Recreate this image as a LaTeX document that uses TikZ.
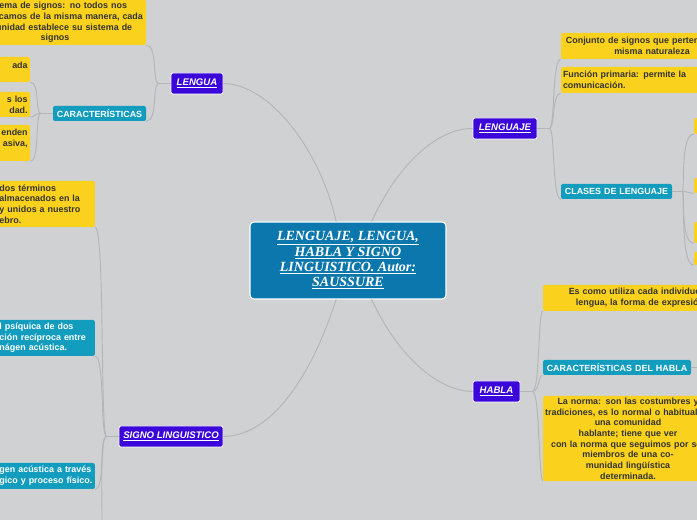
\documentclass[tikz,border=0pt]{standalone}
\usepackage{fontspec}
\setmainfont{Liberation Serif}
\setsansfont{Liberation Sans}
\usetikzlibrary{calc}
\definecolor{bg}{HTML}{D0D1D3}
\definecolor{ylw}{HTML}{FAD21E}
\definecolor{tl}{HTML}{129CBE}
\definecolor{pur}{HTML}{3A06DA}
\definecolor{cen}{HTML}{0B77AD}
\definecolor{ln}{HTML}{B4B5B8}
\tikzset{
 x=0.75pt,y=-0.75pt,
 bx/.style={rounded corners=1.5pt,inner sep=1.5pt,font=\sffamily\bfseries\fontsize{6.7}{8}\selectfont},
 yb/.style={bx,fill=ylw,text=black!80},
 tb/.style={bx,fill=tl,text=white},
 pb/.style={bx,fill=pur,draw=white,line width=0.6pt,text=white,font=\sffamily\bfseries\itshape\fontsize{7.2}{8}\selectfont},
 con/.style={draw=ln,line width=0.7pt}
}
\begin{document}
\begin{tikzpicture}
\useasboundingbox (0,0) rectangle (697,520);
\clip (0,0) rectangle (697,520);
\fill[bg] (0,0) rectangle (697,520);
% center
\node[rounded corners=3pt,fill=cen,draw=white,line width=0.8pt,minimum width=147pt,minimum height=57.75pt,align=center,text=white,font=\bfseries\itshape\fontsize{10.5}{11.5}\selectfont] (c) at (348,260.5) {\underline{LENGUAJE, LENGUA,}\\\underline{HABLA Y SIGNO}\\\underline{LINGUISTICO. Autor:}\\\underline{SAUSSURE}};
% main
\node[pb,minimum width=39pt,minimum height=15.75pt] (lengua) at (197,83.5) {\underline{LENGUA}};
\node[pb,minimum width=78pt,minimum height=15.75pt] (signo) at (171,436.5) {\underline{SIGNO LINGUISTICO}};
\node[pb,minimum width=48pt,minimum height=15.75pt] (lenguaje) at (505,128.5) {\underline{LENGUAJE}};
\node[pb,minimum width=35.25pt,minimum height=15.75pt] (habla) at (496.5,391.5) {\underline{HABLA}};
% lengua children
\node[yb,text width=133.5pt,minimum height=33.75pt,align=center] (la) at (55,22.5) {Sistema de signos: no todos nos\\comunicamos de la misma manera, cada\\comunidad establece su sistema de\\signos};
\node[tb,text width=66.75pt,minimum height=11.25pt,align=center] (car) at (99.5,113.5) {CARACTERÍSTICAS};
\node[yb,minimum width=67.5pt,minimum height=18.75pt,text width=64pt,align=right] (y1) at (-15,69.5) {ada\\[-1pt]~};
\node[yb,minimum width=67.5pt,minimum height=18.75pt,text width=64pt,align=right] (y2) at (-15,104.5) {s los\\dad.};
\node[yb,minimum width=67.5pt,minimum height=27pt,text width=64pt,align=right] (y3) at (-15,143) {enden\\asiva,\\~};
% signo children
\node[yb,minimum height=34.5pt,text width=113pt,align=right] (s1) at (17.5,204) {\makebox[70pt][l]{dos términos}\\\makebox[70pt][l]{almacenados en la}\\\makebox[70pt][l]{y unidos a nuestro}\\\makebox[70pt][l]{ebro.}};
\node[tb,minimum height=27pt,text width=113pt,align=right] (s2) at (17.5,338) {\makebox[70pt][l]{l psíquica de dos}\\\makebox[70pt][l]{ción recíproca entre}\\\makebox[70pt][l]{nágen acústica.}};
\node[tb,minimum height=19.5pt,text width=113pt,align=right] (s3) at (17.5,476) {\makebox[70pt][l]{gen acústica a través}\\\makebox[70pt][l]{gico y proceso físico.}};
\coordinate (s4) at (102,520);
% lenguaje children
\node[yb,text width=133.5pt,minimum height=19.5pt,align=center] (j1) at (652,46) {Conjunto de signos que pertenecen a la\\misma naturaleza};
\node[yb,text width=133.5pt,minimum height=19.5pt,align=left] (j2) at (652,80) {Función primaria: permite la\\comunicación.};
\node[tb,text width=80.25pt,minimum height=11.25pt,align=center] (cl) at (616.5,191.5) {CLASES DE LENGUAJE};
\node[yb,minimum width=30pt,minimum height=12pt] (k1) at (714,126) {};
\node[yb,minimum width=30pt,minimum height=11.25pt] (k2) at (714,185.5) {};
\node[yb,minimum width=30pt,minimum height=15.75pt] (k3) at (714,232.5) {};
\node[yb,minimum width=30pt,minimum height=9.75pt] (k4) at (714,258.5) {};
% habla children
\node[yb,text width=142.5pt,minimum height=19.5pt,align=center] (h1) at (640,298) {Es como utiliza cada individuo la\\lengua, la forma de expresión};
\node[tb,text width=108pt,minimum height=11.25pt,align=center] (h2) at (617,367.5) {CARACTERÍSTICAS DEL HABLA};
\coordinate (h2e) at (697,367.5);
\node[yb,text width=124.5pt,minimum height=50.25pt,align=center] (h3) at (628,438.5) {La norma: son las costumbres y\\tradiciones, es lo normal o habitual en\\una comunidad hablante; tiene que ver\\con la norma que seguimos por ser\\miembros de una comunidad lingüística\\determinada.};
% connectors center
\draw[con] ($(c.north west)!0.44!(c.north east)$) .. controls (320,150) and (270,84) .. (lengua.east);
\draw[con] ($(c.north west)!0.62!(c.north east)$) .. controls (400,160) and (440,128) .. (lenguaje.west);
\draw[con] ($(c.south west)!0.44!(c.south east)$) .. controls (310,380) and (270,436) .. (signo.east);
\draw[con] ($(c.south west)!0.62!(c.south east)$) .. controls (400,360) and (440,391) .. (habla.west);
% lengua branches
\draw[con] (lengua.west) -- ++(-12,0) .. controls (152,84) and (158,45) .. (la.south east);
\draw[con] (lengua.west) -- ++(-12,0) .. controls (152,84) and (158,121) .. (car.south east);
\draw[con] (car.west) -- ++(-12,0) .. controls (35,113) and (40,82) .. (y1.south east);
\draw[con] (car.west) -- ++(-12,0) .. controls (35,113) and (35,117) .. (y2.south east);
\draw[con] (car.west) -- ++(-12,0) .. controls (35,113) and (40,161) .. (y3.south east);
% signo branches
\draw[con] (signo.west) -- ++(-12,0) .. controls (100,436) and (105,227) .. (s1.south east);
\draw[con] (signo.west) -- ++(-12,0) .. controls (100,436) and (105,356) .. (s2.south east);
\draw[con] (signo.west) -- ++(-12,0) .. controls (100,436) and (105,489) .. (s3.south east);
\draw[con] (signo.west) -- ++(-12,0) .. controls (100,436) and (102,480) .. (s4);
% lenguaje branches
\draw[con] (lenguaje.east) -- ++(12,0) .. controls (555,128) and (552,59) .. (j1.south west);
\draw[con] (lenguaje.east) -- ++(12,0) .. controls (555,128) and (552,93) .. (j2.south west);
\draw[con] (lenguaje.east) -- ++(12,0) .. controls (555,128) and (552,199) .. (cl.south west);
\draw[con] (cl.east) -- ++(10,0) .. controls (685,191) and (680,134) .. (k1.south west);
\draw[con] (cl.east) -- ++(10,0) .. controls (685,191) and (688,193) .. (k2.south west);
\draw[con] (cl.east) -- ++(10,0) .. controls (685,191) and (680,243) .. (k3.south west);
\draw[con] (cl.east) -- ++(10,0) .. controls (685,191) and (680,265) .. (k4.south west);
% habla branches
\draw[con] (habla.east) -- ++(12,0) .. controls (540,391) and (538,311) .. (h1.south west);
\draw[con] (habla.east) -- ++(12,0) .. controls (540,391) and (538,375) .. (h2.south west);
\draw[con] (habla.east) -- ++(12,0) .. controls (540,391) and (538,472) .. (h3.south west);
\draw[con] (h2.east) -- (h2e);
\end{tikzpicture}
\end{document}
